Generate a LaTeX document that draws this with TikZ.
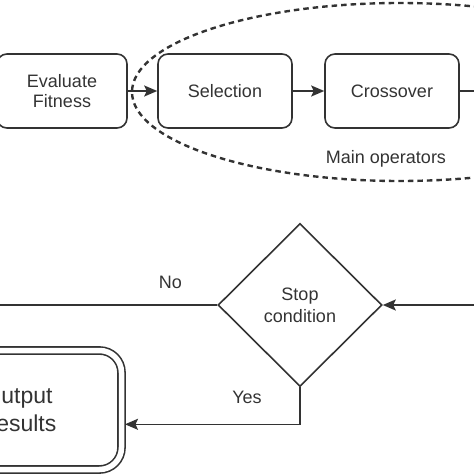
\documentclass[tikz,border=0pt]{standalone}
\usepackage{xcolor}
\usepackage{fontspec}
\setmainfont{Liberation Sans}
\usepackage{tikz}
\usetikzlibrary{positioning,shapes.geometric,arrows.meta}

\definecolor{ink}{HTML}{333333}

\begin{document}
\begin{tikzpicture}[x=1pt, y=-1pt, >={Stealth[length=13pt,width=11pt,inset=2.5pt]},
  line width=1.6pt, color=ink,
  every stage/.style={draw, rounded corners=10pt, minimum width=134pt, minimum height=74pt,
    inner sep=0pt, align=center, font=\fontsize{18}{20}\selectfont},
  stage 1/.style={minimum width=130pt},
  decision/.style={draw, diamond, minimum width=164pt, minimum height=163pt, inner sep=0pt,
    align=center, font=\fontsize{18}{22}\selectfont},
  result/.style={draw, double, double distance=5.5pt, rounded corners=22pt,
    minimum width=207pt, minimum height=119pt, outer sep=3.5pt,
    align=center, font=\fontsize{23}{28}\selectfont},
  tag/.style={anchor=base, inner sep=0pt, font=\fontsize{18}{20}\selectfont}]

\useasboundingbox (0,0) rectangle (474,474);
\clip (0,0) rectangle (474,474);

% main operators
\draw [line width=2.4pt, dash pattern=on 5.5pt off 4pt] (400,92) ellipse [x radius=268, y radius=89];
\node [tag] (main-ops) at (386,163) {Main operators};

\foreach \t/\px [count=\i] in {{Evaluate\\Fitness}/62, Selection/225, Crossover/392}
  \node [every stage/.try, stage \i/.try] (stage-\i) at (\px,91) {\t};

\foreach \i/\j in {1/2,2/3}
  \draw [->] (stage-\i) -- (stage-\j);

\coordinate (out-right) at (480,91);
\draw (stage-3) -- (out-right);

% stop test
\node [decision] (stop) at (300,305) {Stop\\condition};
\node [result] (output) at (18,410) {Output\\Results};

\coordinate (in-right) at (480,305);
\coordinate (no-end) at (-10,305);
\draw [->] (in-right) -- (stop.east);
\draw (stop.west) -- (no-end);
\draw [->] (stop.south) -- ++(0,37) coordinate (yes-turn) -- (yes-turn -| output.east);

\node [tag] (no-lbl) at (170.5,288) {No};
\node [tag] (yes-lbl) at (247,403) {Yes};

\end{tikzpicture}
\end{document}
